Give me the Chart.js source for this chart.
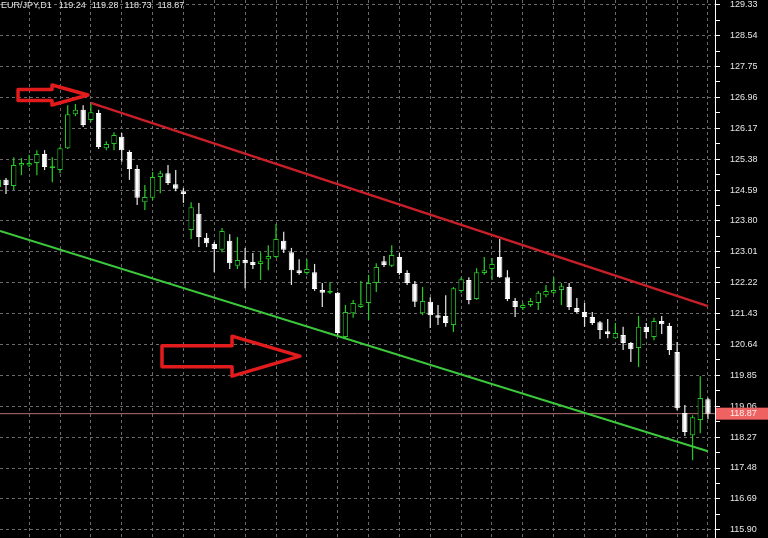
<!DOCTYPE html>
<html>
<head>
<meta charset="utf-8">
<script src="https://cdn.jsdelivr.net/npm/chart.js@4.4.0/dist/chart.umd.min.js"></script>
<style>
  html, body { margin: 0; padding: 0; background: #000; overflow: hidden; }
  #wrap { width: 768px; height: 538px; }
</style>
</head>
<body>
<div id="wrap"><canvas id="myChart"></canvas></div>
<script>
// EUR/JPY daily bars (first one is cut by the left edge)
var symbol = 'EUR/JPY,D1';
var opens = [
  124.67, 124.85, 124.69, 125.22, 125.22, 125.28, 125.51, 125.15, 125.10, 125.66,
  126.53, 126.64, 126.38, 126.56, 125.66, 125.77, 125.95, 125.56, 125.13, 124.28,
  124.39, 124.92, 125.02, 124.74, 124.56, 123.57, 123.98, 123.37, 123.21, 123.06,
  123.29, 122.65, 122.80, 122.75, 122.70, 122.82, 122.88, 123.29, 123.00, 122.54,
  122.47, 122.49, 122.03, 121.96, 121.96, 120.83, 121.44, 121.60, 121.70, 122.21,
  122.77, 122.65, 122.88, 122.47, 122.19, 121.44, 121.73, 121.39, 121.37, 121.14,
  122.01, 122.29, 121.80, 122.47, 122.57, 122.88, 122.36, 121.75, 121.57, 121.65,
  121.70, 121.90, 121.96, 122.03, 122.11, 121.57, 121.47, 121.34, 121.21, 120.98,
  120.80, 120.88, 120.68, 120.55, 121.09, 120.83, 121.24, 121.11, 120.45, 118.89,
  118.32, 118.71, 119.24
];
var highs = [
  124.90, 124.90, 125.43, 125.41, 125.49, 125.61, 125.61, 125.43, 125.69, 126.76,
  126.79, 126.76, 126.82, 126.64, 125.84, 126.07, 126.05, 125.61, 125.23, 124.72,
  125.05, 125.08, 125.23, 125.10, 124.64, 124.28, 124.26, 123.49, 123.26, 123.62,
  123.46, 123.39, 123.11, 122.98, 123.00, 123.18, 123.72, 123.52, 123.11, 122.82,
  122.82, 122.70, 122.21, 122.24, 121.98, 121.65, 121.78, 122.26, 122.42, 122.72,
  122.90, 123.18, 122.98, 122.54, 122.26, 122.11, 121.85, 121.65, 121.90, 122.11,
  122.36, 122.36, 122.59, 122.88, 122.85, 123.34, 122.54, 121.83, 121.70, 121.83,
  122.01, 122.16, 122.36, 122.21, 122.21, 121.83, 121.70, 121.47, 121.24, 121.29,
  121.19, 121.09, 120.70, 121.37, 121.19, 121.32, 121.37, 121.19, 120.70, 119.09,
  118.83, 119.83, 119.28
];
var lows = [
  124.59, 124.49, 124.59, 124.97, 125.18, 124.97, 125.10, 124.79, 125.02, 125.64,
  126.48, 126.20, 126.33, 125.64, 125.61, 125.61, 125.31, 124.85, 124.21, 124.08,
  124.33, 124.51, 124.72, 124.56, 124.26, 123.34, 123.13, 123.13, 122.49, 123.00,
  122.57, 122.57, 122.08, 122.57, 122.29, 122.54, 122.85, 122.98, 122.16, 122.42,
  122.42, 122.01, 121.60, 121.93, 120.88, 120.80, 121.32, 121.57, 121.26, 121.98,
  122.62, 122.62, 122.42, 122.16, 121.60, 121.39, 121.06, 121.14, 121.09, 120.96,
  121.96, 121.67, 121.78, 122.42, 122.29, 122.34, 121.75, 121.34, 121.52, 121.60,
  121.52, 121.85, 121.93, 121.65, 121.52, 121.44, 121.09, 121.14, 120.78, 120.80,
  120.78, 120.50, 120.19, 120.06, 120.80, 120.75, 120.91, 120.37, 118.96, 118.30,
  117.68, 118.37, 118.73
];
var closes = [
  124.85, 124.72, 125.23, 125.28, 125.28, 125.51, 125.18, 125.20, 125.66, 126.53,
  126.64, 126.25, 126.58, 125.69, 125.77, 126.00, 125.61, 125.13, 124.39, 124.41,
  124.92, 125.02, 124.77, 124.62, 124.49, 124.15, 123.39, 123.23, 123.08, 123.54,
  122.72, 122.80, 122.72, 122.67, 122.77, 122.90, 123.34, 123.06, 122.54, 122.47,
  122.57, 122.06, 121.96, 122.01, 120.93, 121.47, 121.70, 121.67, 122.21, 122.62,
  122.67, 122.93, 122.47, 122.21, 121.73, 121.75, 121.39, 121.32, 121.19, 122.08,
  122.31, 121.78, 122.49, 122.54, 122.70, 122.36, 121.80, 121.60, 121.65, 121.75,
  121.96, 122.01, 122.03, 122.13, 121.60, 121.47, 121.34, 121.19, 121.01, 120.91,
  120.93, 120.68, 120.52, 121.09, 120.96, 121.24, 121.16, 120.50, 119.01, 118.40,
  118.78, 119.27, 118.87
];
var priceLabels = ['129.33', '128.54', '127.75', '126.96', '126.17', '125.38', '124.59', '123.80', '123.01',
  '122.22', '121.43', '120.64', '119.85', '119.06', '118.27', '117.48', '116.69', '115.90'];

// channel lines, x = bar number
var redLine = [{x: 12, y: 126.82}, {x: 92, y: 121.62}];
var greenLine = [{x: 0.22, y: 123.54}, {x: 92, y: 117.91}];

// hand drawn arrows: x from / neck / tip in bar numbers, y in price, half heights in px
var arrows = [
  {from: 2.56, neck: 6.96, to: 11.63, y: 127.02, shaft: 5.5, head: 10},
  {from: 21.22, neck: 30.30, to: 39.11, y: 120.34, shaft: 10.5, head: 20}
];

var xMin = 0.22, xMax = 92.91;
var yMin = 115.69, yMax = 129.45;
var last = closes.length - 1;
var lastPrice = closes[last];

var green = '#26c826';
var gridColor = '#6a6a6a';

function isUp(i) { return closes[i] >= opens[i]; }

var bodyData = closes.map(function (c, i) { return {x: i, y: [opens[i], c]}; });
var wickData = highs.map(function (h, i) { return {x: i, y: [lows[i], h]}; });

var overlay = {
  id: 'overlay',
  afterDraw: function (chart) {
    var ctx = chart.ctx, xs = chart.scales.x, ys = chart.scales.y;
    ctx.save();

    ctx.strokeStyle = '#e21c1c';
    ctx.lineWidth = 3.5;
    ctx.lineJoin = 'round';
    arrows.forEach(function (a) {
      var x0 = xs.getPixelForValue(a.from);
      var x1 = xs.getPixelForValue(a.neck);
      var x2 = xs.getPixelForValue(a.to);
      var y = ys.getPixelForValue(a.y);
      ctx.beginPath();
      ctx.moveTo(x0, y - a.shaft);
      ctx.lineTo(x1, y - a.shaft);
      ctx.lineTo(x1, y - a.head);
      ctx.lineTo(x2, y);
      ctx.lineTo(x1, y + a.head);
      ctx.lineTo(x1, y + a.shaft);
      ctx.lineTo(x0, y + a.shaft);
      ctx.closePath();
      ctx.stroke();
    });

    // current price box on the axis
    var py = ys.getPixelForValue(lastPrice);
    ctx.fillStyle = '#ee6262';
    ctx.fillRect(ys.left + 1, py - 6, chart.width - ys.left, 12);
    ctx.fillStyle = '#fff0f0';
    ctx.font = '9px "Liberation Sans"';
    ctx.textBaseline = 'middle';
    ctx.fillText(lastPrice.toFixed(2), ys.left + 15, py);

    // header line
    var parts = [symbol, opens[last].toFixed(2), highs[last].toFixed(2), lows[last].toFixed(2), closes[last].toFixed(2)];
    ctx.fillStyle = '#e0e0e0';
    var tx = 1;
    parts.forEach(function (p, i) {
      ctx.fillText(p, tx, 6);
      tx += ctx.measureText(p).width + (i === 0 ? 7 : 6);
    });
    ctx.restore();
  }
};

var ctx = document.getElementById('myChart').getContext('2d');
var chart = new Chart(ctx, {
  type: 'bar',
  data: {
    datasets: [
      {type: 'line', data: redLine, borderColor: '#c81f28', borderWidth: 2.5, pointRadius: 0, order: 0},
      {type: 'line', data: greenLine, borderColor: '#3cc83c', borderWidth: 2, pointRadius: 0, order: 0},
      {
        data: bodyData,
        backgroundColor: function (c) { return isUp(c.dataIndex) ? '#000000' : '#ffffff'; },
        borderColor: function (c) { return isUp(c.dataIndex) ? green : '#ffffff'; },
        borderWidth: 1, borderSkipped: false, inflateAmount: 0,
        grouped: false, categoryPercentage: 1, barPercentage: 0.7, order: 1
      },
      {
        data: wickData,
        backgroundColor: function (c) { return isUp(c.dataIndex) ? green : '#e4e4e4'; },
        borderWidth: 0, inflateAmount: 0,
        grouped: false, categoryPercentage: 1, barPercentage: 0.16, order: 2
      },
      {
        type: 'line', data: [{x: xMin, y: lastPrice}, {x: xMax, y: lastPrice}],
        borderColor: '#b47070', borderWidth: 1, pointRadius: 0, order: 3
      }
    ]
  },
  options: {
    responsive: true,
    maintainAspectRatio: false,
    animation: false,
    layout: {padding: 0},
    plugins: {legend: {display: false}, tooltip: {enabled: false}},
    scales: {
      x: {
        type: 'linear', min: xMin, max: xMax, offset: false,
        grid: {color: gridColor, offset: false, drawTicks: false},
        border: {display: false, dash: [3, 3]},
        ticks: {display: false},
        afterBuildTicks: function (s) {
          var t = [];
          for (var v = 4; v < xMax; v += 4) t.push({value: v});
          s.ticks = t;
        },
        afterFit: function (s) { s.height = 0; s.paddingLeft = 0; s.paddingRight = 0; }
      },
      y: {
        type: 'linear', position: 'right', min: yMin, max: yMax,
        grid: {
          color: function (c) { return c.tick && c.tick.label !== '' ? gridColor : 'rgba(0,0,0,0)'; },
          tickColor: '#ffffff', tickLength: 5, tickWidth: 1
        },
        border: {display: true, color: '#ffffff', width: 1, dash: [3, 3]},
        ticks: {
          color: '#e6e6e6', padding: 10, autoSkip: false,
          font: {family: 'Liberation Sans', size: 9},
          callback: function (value) {
            var m = priceLabels.filter(function (l) { return Math.abs(parseFloat(l) - value) < 0.005; });
            return m.length ? m[0] : '';
          }
        },
        afterBuildTicks: function (s) {
          var t = [];
          priceLabels.forEach(function (l, i) {
            var v = parseFloat(l);
            t.push({value: v});
            if (i < priceLabels.length - 1) t.push({value: (v + parseFloat(priceLabels[i + 1])) / 2});
          });
          t.sort(function (a, b) { return a.value - b.value; });
          s.ticks = t;
        },
        afterFit: function (s) { s.width = 53; s.paddingTop = 0; s.paddingBottom = 0; }
      }
    }
  },
  plugins: [overlay]
});
</script>
</body>
</html>
